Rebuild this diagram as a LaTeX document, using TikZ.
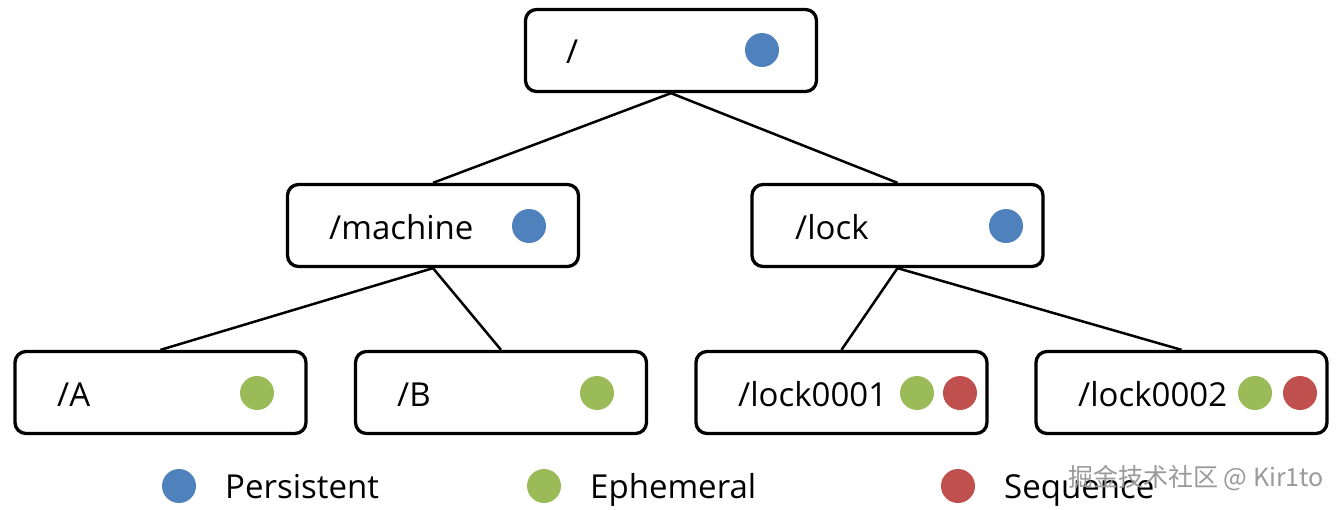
\documentclass[tikz,border=0pt]{standalone}
\usepackage{fontspec}
\setmainfont{Open Sans}
\newfontfamily\cjkfont{Noto Sans CJK SC}
\definecolor{pblue}{HTML}{4F81BD}
\definecolor{egreen}{HTML}{9BBB59}
\definecolor{sred}{HTML}{C0504D}
\definecolor{wmgray}{HTML}{9A9A9A}
\tikzset{
  znode/.style={draw=black, line width=3.3pt, rounded corners=11pt, minimum width=291pt, minimum height=82pt, inner sep=0pt},
  zdot/.style={circle, fill=#1, minimum size=34pt, inner sep=0pt, draw=none},
  ztext/.style={anchor=base west, inner sep=0pt, font=\fontsize{33}{38}\selectfont},
  zedge/.style={line width=2.5pt},
}
\begin{document}
\begin{tikzpicture}[x=1pt,y=-1pt]
\useasboundingbox[fill=white] (0,0) rectangle (1342,509);
% boxes
\node[znode] (root) at (671,50.5) {};
\node[znode] (machine) at (433,225.5) {};
\node[znode] (lock) at (897.5,225.5) {};
\node[znode] (A) at (160.5,392.5) {};
\node[znode] (B) at (501,392.5) {};
\node[znode] (l1) at (841.5,392.5) {};
\node[znode] (l2) at (1181.5,392.5) {};
% edges
\draw[zedge] (root.south) -- (machine.north);
\draw[zedge] (root.south) -- (lock.north);
\draw[zedge] (machine.south) -- (A.north);
\draw[zedge] (machine.south) -- (B.north);
\draw[zedge] (lock.south) -- (l1.north);
\draw[zedge] (lock.south) -- (l2.north);
% labels
\node[ztext] (troot) at (566,63.5) {/};
\node[ztext] (tmachine) at (329,239) {/machine};
\node[ztext] (tlock) at (795,239) {/lock};
\node[ztext] (tA) at (57,406) {/A};
\node[ztext] (tB) at (397,406) {/B};
\node[ztext] (tl1) at (738,406) {/lock0001};
\node[ztext] (tl2) at (1078,406) {/lock0002};
% dots
\node[zdot=pblue] (droot) at (762,50) {};
\node[zdot=pblue] (dmachine) at (529,226) {};
\node[zdot=pblue] (dlock) at (1006,226) {};
\node[zdot=egreen] (dA) at (257,393) {};
\node[zdot=egreen] (dB) at (597,393) {};
\node[zdot=egreen] (dl1g) at (917,393) {};
\node[zdot=sred] (dl1r) at (960,393) {};
\node[zdot=egreen] (dl2g) at (1255,393) {};
\node[zdot=sred] (dl2r) at (1300,393) {};
% legend
\node[zdot=pblue] (lgp) at (179,486) {};
\node[ztext] (lgpt) at (225,498) {Persistent};
\node[zdot=egreen] (lge) at (544,486) {};
\node[ztext] (lget) at (590,498) {Ephemeral};
\node[zdot=sred] (lgs) at (958,486) {};
\node[ztext] (lgst) at (1004,498) {Sequence};
% watermark
\node[anchor=west, inner sep=0pt, text=wmgray, font=\fontsize{25}{28}\selectfont] (wm) at (1068,478) {\cjkfont 掘金技术社区 @ Kir1to};
\end{tikzpicture}
\end{document}
